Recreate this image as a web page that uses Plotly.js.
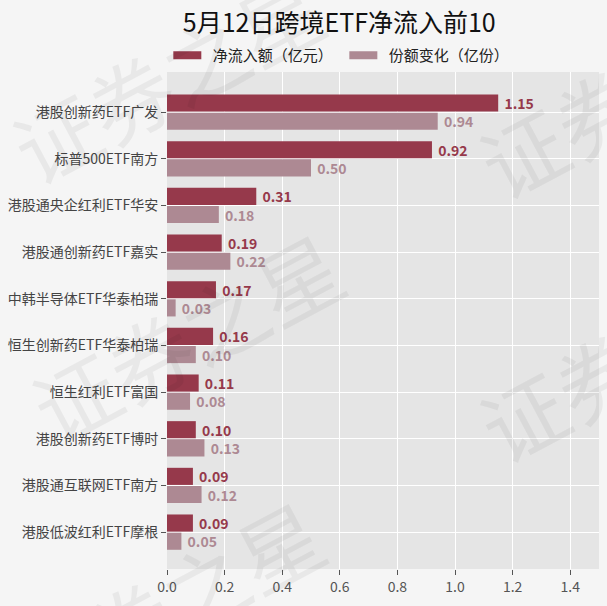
<!DOCTYPE html>
<html>
<head>
<meta charset="utf-8">
<script src="https://cdn.plot.ly/plotly-3.0.1.min.js"></script>
<style>
    html, body { margin: 0; padding: 0; background: #f5f5f5; }
    #chart { width: 607px; height: 606px; }
</style>
</head>
<body>
<div id="chart"></div>
<script>

// data, top to bottom
const funds = [
    '港股创新药ETF广发',
    '标普500ETF南方',
    '港股通央企红利ETF华安',
    '港股通创新药ETF嘉实',
    '中韩半导体ETF华泰柏瑞',
    '恒生创新药ETF华泰柏瑞',
    '恒生红利ETF富国',
    '港股创新药ETF博时',
    '港股通互联网ETF南方',
    '港股低波红利ETF摩根'
];
const netInflow = [ 1.15, 0.92, 0.31, 0.19, 0.17, 0.16, 0.11, 0.10, 0.09, 0.09 ];
const shareChange = [ 0.94, 0.50, 0.18, 0.22, 0.03, 0.10, 0.08, 0.13, 0.12, 0.05 ];
const xTicks = [ 0, 0.2, 0.4, 0.6, 0.8, 1.0, 1.2, 1.4 ];

const RED = 'rgb(150,57,75)';
const GREY = 'rgb(173,137,147)';
const FONT = '"Noto Sans CJK SC", "Noto Sans", sans-serif';

const chartData = [
    {
        type: 'bar',
        orientation: 'h',
        name: '净流入额（亿元）',
        y: funds,
        x: netInflow,
        marker: { color: RED },
        text: netInflow.map( v => '\u00a0' + v.toFixed( 2 ) ),
        textposition: 'outside',
        constraintext: 'none',
        cliponaxis: false,
        textfont: { color: RED, size: 14, weight: 'bold', family: FONT },
        hoverinfo: 'none'
    },
    {
        type: 'bar',
        orientation: 'h',
        name: '份额变化（亿份）',
        y: funds,
        x: shareChange,
        marker: { color: GREY },
        text: shareChange.map( v => '\u00a0' + v.toFixed( 2 ) ),
        textposition: 'outside',
        constraintext: 'none',
        cliponaxis: false,
        textfont: { color: GREY, size: 14, weight: 'bold', family: FONT },
        hoverinfo: 'none'
    }
];

// faint tiled watermark (centres in paper units)
const mark = { text: '证券之星', xref: 'paper', yref: 'paper', showarrow: false,
    xanchor: 'center', yanchor: 'middle',
    textangle: -28, font: { size: 84, color: 'rgba(0,0,0,0.05)', family: FONT } };
const markPos = [ [ 0.0, 0.99 ], [ 0.045, 0.47 ], [ 1.08, 0.96 ], [ 1.08, 0.43 ], [ 0.0, -0.07 ] ];

const chartLayout = {
    width: 607,
    height: 606,
    margin: { l: 167, r: 8, t: 72, b: 37 },
    paper_bgcolor: '#f5f5f5',
    plot_bgcolor: '#e5e5e5',
    font: { family: FONT, color: '#444' },
    title: {
        text: '5月12日跨境ETF净流入前10',
        font: { size: 25, color: '#111', family: FONT },
        x: 0.559,
        xref: 'container',
        xanchor: 'center',
        y: 0.962,
        yref: 'container',
        yanchor: 'middle'
    },
    barmode: 'group',
    bargap: 0.22,
    bargroupgap: 0.06,
    showlegend: true,
    legend: {
        orientation: 'h',
        x: -0.012,
        xanchor: 'left',
        y: 1.0,
        yanchor: 'bottom',
        itemwidth: 41,
        traceorder: 'normal',
        font: { size: 15, color: '#222', family: FONT },
        bgcolor: 'rgba(0,0,0,0)'
    },
    xaxis: {
        range: [ 0, 1.5 ],
        tickvals: xTicks,
        ticktext: xTicks.map( v => v.toFixed( 1 ) ),
        ticks: 'outside',
        ticklen: 5,
        tickcolor: '#555',
        tickfont: { size: 14, color: '#555' },
        showgrid: true,
        gridcolor: '#ffffff',
        gridwidth: 1,
        zeroline: false,
        showline: false
    },
    yaxis: {
        type: 'category',
        range: [ 9.79, -0.86 ],
        ticks: 'outside',
        ticklen: 5,
        tickcolor: '#555',
        tickfont: { size: 14, color: '#444' },
        showgrid: true,
        gridcolor: '#ffffff',
        gridwidth: 1,
        zeroline: false,
        showline: false
    },
    annotations: markPos.map( p => Object.assign( {}, mark, { x: p[ 0 ], y: p[ 1 ] } ) )
};

Plotly.newPlot( 'chart', chartData, chartLayout, { displayModeBar: false, staticPlot: true } ).then( gd => {

    // wider legend swatches like the original
    gd.querySelectorAll( '.legendpoints path' ).forEach( p => {
        p.setAttribute( 'd', 'M14,4H-14V-4H14Z' );
    } );

} );

</script>
</body>
</html>
